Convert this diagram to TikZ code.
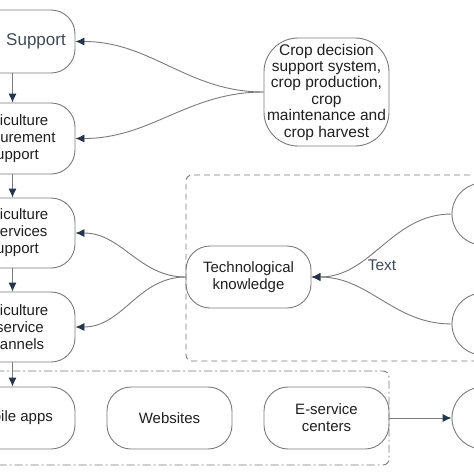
\documentclass[tikz,border=0pt]{standalone}
\usepackage{fontspec}
\setmainfont{Liberation Sans}
\usetikzlibrary{arrows.meta}

\definecolor{linea}{HTML}{7A7A7A}
\definecolor{punta}{HTML}{26364A}
\definecolor{testo}{HTML}{1E1E1E}
\definecolor{grigio}{HTML}{3E4A58}

\begin{document}
\begin{tikzpicture}[x=1pt, y=-1pt, line width=0.9pt,
    box/.style={draw=linea, rounded corners=24pt, minimum width=125pt, minimum height=62pt,
        align=center, text=testo, inner sep=2pt, font=\fontsize{15}{17}\selectfont},
    tondo/.style={draw=linea, circle, minimum size=62pt},
    freccia/.style={draw=linea, -{Latex[length=9pt,width=8pt,color=punta]}}]

    \useasboundingbox (0,0) rectangle (474,474);
    \clip (0,0) rectangle (474,474);

    % -- Cornici tratteggiate --
    \draw[linea, dash pattern=on 6pt off 4pt, rounded corners=6pt]
        (490,175) -- (186,175) -- (186,361) -- (490,361);
    \draw[linea, dash pattern=on 8pt off 3pt on 2pt off 3pt, rounded corners=6pt]
        (-20,371) -- (389,371) -- (389,465) -- (-20,465);

    % -- Colonna sinistra --
    \node[box, minimum height=63pt] (sup) at (12.5,41.5)
        {\hspace*{47pt}{\fontsize{17}{20}\selectfont\color{grigio}Support}};
    \node[box, minimum height=71pt] (proc) at (12.5,138.5) {Agriculture\\Procurement\\Support};
    \node[box, minimum height=70pt] (eserv) at (12.5,233) {Agriculture\\E-services\\Support};
    \node[box, minimum height=70pt] (canali) at (12.5,327) {Agriculture\\E-service\\Channels};

    % -- Riga in basso --
    \node[box] (mobile) at (12.5,418) {Mobile apps};
    \node[box] (web) at (169.5,418) {Websites};
    \node[box] (centri) at (326.5,418) {E-service\\centers};

    % -- Parte centrale e destra --
    \node[box, rounded corners=34pt, minimum height=108pt, inner sep=0pt,
        font=\fontsize{15.5}{16.4}\selectfont] (crop) at (326.5,92)
        {Crop decision\\support system,\\crop production,\\crop\\maintenance and\\crop harvest};
    \node[box] (tech) at (248.5,277) {Technological\\knowledge};
    \node[text=grigio, font=\fontsize{15.5}{18}\selectfont] (lab) at (382,265) {Text};

    \node[tondo] (c1) at (483,214) {};
    \node[tondo] (c2) at (483,324) {};
    \node[tondo] (c3) at (483,418) {};

    % -- Frecce --
    \draw[freccia] (sup) -- (proc);
    \draw[freccia] (proc) -- (eserv);
    \draw[freccia] (eserv) -- (canali);
    \draw[freccia] (canali) -- (mobile);

    \draw[freccia] (crop.west) to[out=180, in=0] (sup.east);
    \draw[freccia] (crop.west) to[out=180, in=0] (proc.east);
    \draw[freccia] (tech.west) to[out=180, in=0] (eserv.east);
    \draw[freccia] (tech.west) to[out=180, in=0] (canali.east);
    \draw[freccia] (c1.west) to[out=180, in=0] (tech.east);
    \draw[freccia] (c2.west) to[out=180, in=0] (tech.east);
    \draw[freccia] (centri) -- (c3);

\end{tikzpicture}
\end{document}
